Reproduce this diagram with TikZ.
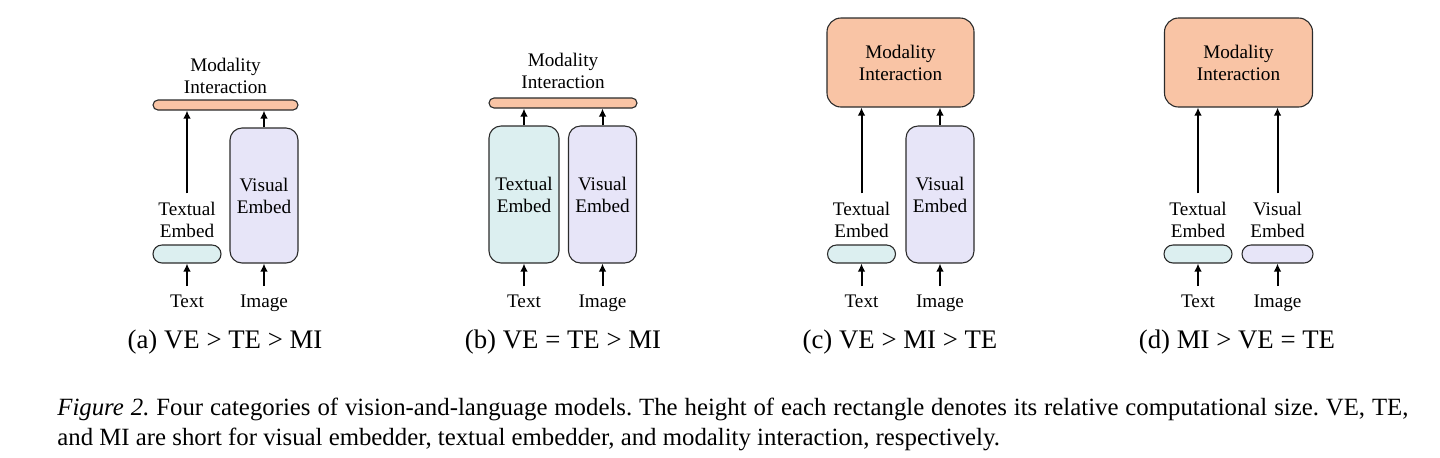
\documentclass[tikz,border=0pt]{standalone}
\usepackage{fontspec}
\setmainfont{Liberation Serif}
\usetikzlibrary{arrows.meta,positioning}
\definecolor{Peach}{HTML}{F9C4A5}
\definecolor{Mint}{HTML}{DCEFF0}
\definecolor{Lilac}{HTML}{E7E5F8}
\definecolor{Edge}{HTML}{2B2B2B}

\begin{document}
\begin{tikzpicture}[x=0.5pt,y=-0.5pt,
    blk/.style={draw=Edge,line width=.55pt,inner sep=0pt,align=center,
                font=\fontsize{9.6}{11}\selectfont},
    mi/.style={blk,fill=Peach},
    te/.style={blk,fill=Mint},
    ve/.style={blk,fill=Lilac},
    bar/.style={minimum width=72.5pt,minimum height=5pt,rounded corners=2.5pt},
    pill/.style={minimum width=34pt,minimum height=9pt,rounded corners=4.5pt},
    tall/.style={minimum width=34pt,minimum height=67.5pt,rounded corners=6pt},
    big/.style={minimum width=74pt,minimum height=44.5pt,rounded corners=7pt},
    lbl/.style={inner sep=4pt,align=center,font=\fontsize{9.6}{11}\selectfont},
    sub/.style={anchor=base,font=\fontsize{13.4}{15}\selectfont},
    arr/.style={-{Latex[length=4pt,width=3.8pt]},line width=1pt}]
  \useasboundingbox (0,0) rectangle (1440,457);

  \node[mi,bar] (barA) at (225.5,105) {};
  \node[lbl] (miA) at (225.5,76) {Modality\\Interaction};
  \node[ve,tall] (veA) at (264,195.5) {Visual\\Embed};
  \node[te,pill] (teA) at (187,254) {};
  \node[lbl] (teLA) at (187,219.5) {Textual\\Embed};
  \node[lbl,anchor=base] (txtA) at (187,307) {Text};
  \node[lbl,anchor=base] (imgA) at (264,307) {Image};
  \node[sub] (subA) at (225,348) {(a) VE > TE > MI};
  \draw[arr] (teLA.north) -- (teLA.north |- barA.south);
  \draw[arr] (veA.north) -- (veA.north |- barA.south);

  \node[mi,bar,minimum width=74pt] (barB) at (563,103) {};
  \node[lbl] (miB) at (563,71) {Modality\\Interaction};
  \node[te,tall,minimum width=35pt,minimum height=68.5pt] (teB) at (524,194.5) {Textual\\Embed};
  \node[ve,tall,minimum height=68.5pt] (veB) at (602.5,194.5) {Visual\\Embed};
  \node[lbl,anchor=base] (txtB) at (524,307) {Text};
  \node[lbl,anchor=base] (imgB) at (602.5,307) {Image};
  \node[sub] (subB) at (563,348) {(b) VE = TE > MI};
  \foreach \n in {teB,veB}{\draw[arr] (\n.north) -- (\n.north |- barB.south);}

  \node[mi,big,minimum width=73.5pt] (miC) at (900.5,62.5) {Modality\\Interaction};
  \node[ve,tall,minimum height=68.5pt] (veC) at (940,194.5) {Visual\\Embed};
  \node[te,pill] (teC) at (861.5,254) {};
  \node[lbl] (teLC) at (861.5,219.5) {Textual\\Embed};
  \node[lbl,anchor=base] (txtC) at (861.5,307) {Text};
  \node[lbl,anchor=base] (imgC) at (940,307) {Image};
  \node[sub] (subC) at (900,348) {(c) VE > MI > TE};
  \draw[arr] (teLC.north) -- (teLC.north |- miC.south);
  \draw[arr] (veC.north) -- (veC.north |- miC.south);

  \node[mi,big] (miD) at (1238.5,62.5) {Modality\\Interaction};
  \node[te,pill] (teD) at (1198,254) {};
  \node[ve,pill,minimum width=35.5pt] (veD) at (1277.5,254) {};
  \node[lbl] (teLD) at (1198,219.5) {Textual\\Embed};
  \node[lbl] (veLD) at (1277.5,219.5) {Visual\\Embed};
  \node[lbl,anchor=base] (txtD) at (1198,307) {Text};
  \node[lbl,anchor=base] (imgD) at (1277.5,307) {Image};
  \node[sub] (subD) at (1237,348) {(d) MI > VE = TE};
  \foreach \n in {teLD,veLD}{\draw[arr] (\n.north) -- (\n.north |- miD.south);}

  \foreach \t/\b in {txtA/teA,imgA/veA,txtB/teB,imgB/veB,txtC/teC,imgC/veC,txtD/teD,imgD/veD}
    {\draw[arr] (\t.north) -- (\b.south);}

  \node[anchor=north west,inner sep=0pt,text width=675.5pt,align=justify,
        font=\fontsize{12.4}{15}\selectfont\frenchspacing] (cap) at (57,398)
    {\textit{Figure 2.} Four categories of vision-and-language models. The height of each rectangle denotes its relative computational size. VE, TE,\linebreak and MI are short for visual embedder, textual embedder, and modality interaction, respectively.};
\end{tikzpicture}
\end{document}
